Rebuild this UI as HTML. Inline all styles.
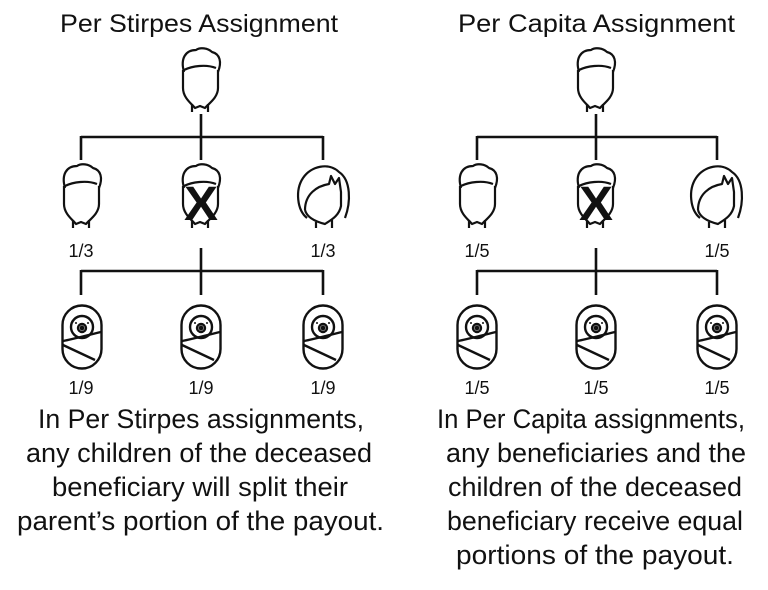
<!DOCTYPE html>
<html><head><meta charset="utf-8"><style>
html,body{margin:0;padding:0;background:#fff;}
svg{display:block}
text{font-family:"Liberation Sans",sans-serif;fill:#111;}
</style></head><body>
<svg width="768" height="590" viewBox="0 0 768 590" xmlns="http://www.w3.org/2000/svg">
<defs>
<g id="man" fill="none" stroke="#111" stroke-width="2.2" stroke-linejoin="round">
  <path d="M-16,-8 C-20,-22 -14,-30 -4,-30 C0,-33 8,-32 12,-28 C20,-26 22,-18 18,-8"/>
  <path d="M-16,-10 C-8,-14 6,-16 16,-12"/>
  <path d="M-17,-10 L-17,8 C-17,18 -8,24 -5,28 L0,26 L5,28 C8,24 18,18 18,8 L18,-10"/>
  <path d="M-8,24 L-8,32 M8,24 L8,32"/>
</g>
<g id="woman" fill="none" stroke="#111" stroke-width="2.2" stroke-linejoin="round">
  <path d="M-16,22 C-26,14 -28,-6 -20,-18 C-12,-30 6,-34 16,-24 C28,-16 28,6 22,22"/>
  <path d="M-18,14 C-18,-2 -6,-10 6,-12 L8,-20 L12,-12 L16,-18 L18,-4 L18,10 C16,20 8,24 2,28 C-6,26 -16,22 -18,14"/>
  <path d="M-7,26 L-7,32 M9,24 L9,32"/>
</g>
<g id="baby" fill="none" stroke="#111" stroke-width="2.4">
  <rect x="-19.5" y="-31.5" width="39" height="63" rx="19.5"/>
  <circle cx="0" cy="-10" r="11"/>
  <circle cx="0" cy="-9" r="4"/>
  <circle cx="0" cy="-9" r="1.2" fill="#111"/>
  <circle cx="-6" cy="-14" r="1" fill="#111" stroke="none"/>
  <circle cx="6" cy="-14" r="1" fill="#111" stroke="none"/>
  <path d="M-19,4 C-8,2 6,-2 19,-5"/>
  <path d="M-19,8 L13,23"/>
</g>
</defs>

<g stroke="#111" stroke-width="2.6" fill="none">
  <path d="M201,114 V137 M81,137 H323 M81,136 V160 M201,136 V160 M323,136 V160"/>
  <path d="M201,248 V271 M81,271 H323 M81,270 V295 M201,270 V295 M323,270 V295"/>
  <path d="M596,114 V137 M477,137 H717 M477,136 V160 M596,136 V160 M717,136 V160"/>
  <path d="M596,248 V271 M477,271 H717 M477,270 V295 M596,270 V295 M717,270 V295"/>
</g>

<use href="#man" x="200" y="80"/>
<use href="#man" x="81" y="196"/>
<use href="#man" x="200" y="196"/>
<use href="#woman" x="323" y="196"/>
<use href="#man" x="595" y="80"/>
<use href="#man" x="477" y="196"/>
<use href="#man" x="595" y="196"/>
<use href="#woman" x="716" y="196"/>
<text x="201" y="220" font-size="48" font-weight="bold" text-anchor="middle" textLength="34" lengthAdjust="spacingAndGlyphs">X</text>
<text x="596" y="220" font-size="48" font-weight="bold" text-anchor="middle" textLength="34" lengthAdjust="spacingAndGlyphs">X</text>

<use href="#baby" x="82" y="337"/>
<use href="#baby" x="201" y="337"/>
<use href="#baby" x="323" y="337"/>
<use href="#baby" x="477" y="337"/>
<use href="#baby" x="596" y="337"/>
<use href="#baby" x="717" y="337"/>

<g font-size="18" text-anchor="middle">
<text x="81" y="257">1/3</text><text x="323" y="257">1/3</text>
<text x="477" y="257">1/5</text><text x="717" y="257">1/5</text>
<text x="81" y="394">1/9</text><text x="201" y="394">1/9</text><text x="323" y="394">1/9</text>
<text x="477" y="394">1/5</text><text x="596" y="394">1/5</text><text x="717" y="394">1/5</text>
</g>

<g font-size="25">
<text x="60" y="32" textLength="278" lengthAdjust="spacingAndGlyphs">Per Stirpes Assignment</text>
<text x="458" y="32" textLength="277" lengthAdjust="spacingAndGlyphs">Per Capita Assignment</text>
</g>

<g font-size="27">
<text x="38" y="428" textLength="326" lengthAdjust="spacingAndGlyphs">In Per Stirpes assignments,</text>
<text x="26" y="462" textLength="346" lengthAdjust="spacingAndGlyphs">any children of the deceased</text>
<text x="52" y="496" textLength="296" lengthAdjust="spacingAndGlyphs">beneficiary will split their</text>
<text x="17" y="530" textLength="367" lengthAdjust="spacingAndGlyphs">parent’s portion of the payout.</text>
<text x="437" y="428" textLength="308" lengthAdjust="spacingAndGlyphs">In Per Capita assignments,</text>
<text x="446" y="462" textLength="300" lengthAdjust="spacingAndGlyphs">any beneficiaries and the</text>
<text x="448" y="496" textLength="294" lengthAdjust="spacingAndGlyphs">children of the deceased</text>
<text x="447" y="530" textLength="296" lengthAdjust="spacingAndGlyphs">beneficiary receive equal</text>
<text x="456" y="564" textLength="278" lengthAdjust="spacingAndGlyphs">portions of the payout.</text>
</g>
</svg>
</body></html>
